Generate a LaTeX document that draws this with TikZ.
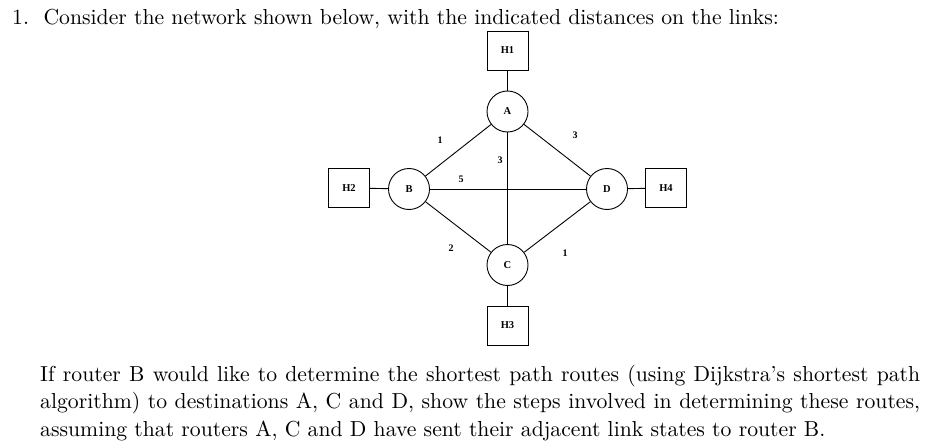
\documentclass[tikz,border=0pt]{standalone}
\usepackage{fontspec}
\setmainfont{lmroman10-regular}[Extension=.otf]
\newfontfamily\tnr{Liberation Serif}
\begin{document}
\begin{tikzpicture}[x=1pt,y=-1pt,
  router/.style={circle,draw,line width=0.9pt,minimum size=41pt,inner sep=0pt,font=\tnr\bfseries\fontsize{10.5}{12}\selectfont},
  host/.style={rectangle,draw,line width=0.9pt,minimum width=41pt,minimum height=39pt,inner sep=0pt,font=\tnr\bfseries\fontsize{10.5}{12}\selectfont},
  link/.style={line width=0.9pt},
  wt/.style={font=\tnr\bfseries\fontsize{10}{12}\selectfont,inner sep=0pt}]
\useasboundingbox (0,0) rectangle (932,444);
% title
\node[anchor=base west,inner sep=0pt,font=\fontsize{21.7}{25}\selectfont] (title) at (12,24.5)
  {1.\ \ Consider the network shown below, with the indicated distances on the links:};
% routers
\node[router] (A) at (507.5,111.5) {A};
\node[router] (B) at (409,189) {B};
\node[router] (D) at (607,189) {D};
\node[router] (C) at (507.5,265) {C};
% hosts
\node[host] (H1) at (507.5,50.5) {H1};
\node[host] (H2) at (349,188) {H2};
\node[host] (H4) at (666,188) {H4};
\node[host] (H3) at (507.5,325.5) {H3};
% links
\draw[link] (H1) -- (A);
\draw[link] (H2) -- (B);
\draw[link] (H4) -- (D);
\draw[link] (H3) -- (C);
\draw[link] (A) -- (B);
\draw[link] (A) -- (D);
\draw[link] (B) -- (C);
\draw[link] (C) -- (D);
\draw[link] (B) -- (D);
\draw[link] (A) -- (C);
% weights
\node[wt] (wAB) at (440,140) {1};
\node[wt] (wAD) at (575,135) {3};
\node[wt] (wAC) at (500,160) {3};
\node[wt] (wBD) at (461,179) {5};
\node[wt] (wBC) at (451,248) {2};
\node[wt] (wCD) at (565,253) {1};
% paragraph
\node[anchor=north west,inner sep=0pt,text width=880pt,align=justify,
  font=\fontsize{21.7}{27.5}\selectfont] (para) at (40,365)
  {\hyphenpenalty=10000 If router B would like to determine the shortest path routes (using Dijkstra's shortest path\linebreak algorithm) to destinations A, C and D, show the steps involved in determining these routes,\linebreak assuming that routers A, C and D have sent their adjacent link states to router B.};
\end{tikzpicture}
\end{document}
